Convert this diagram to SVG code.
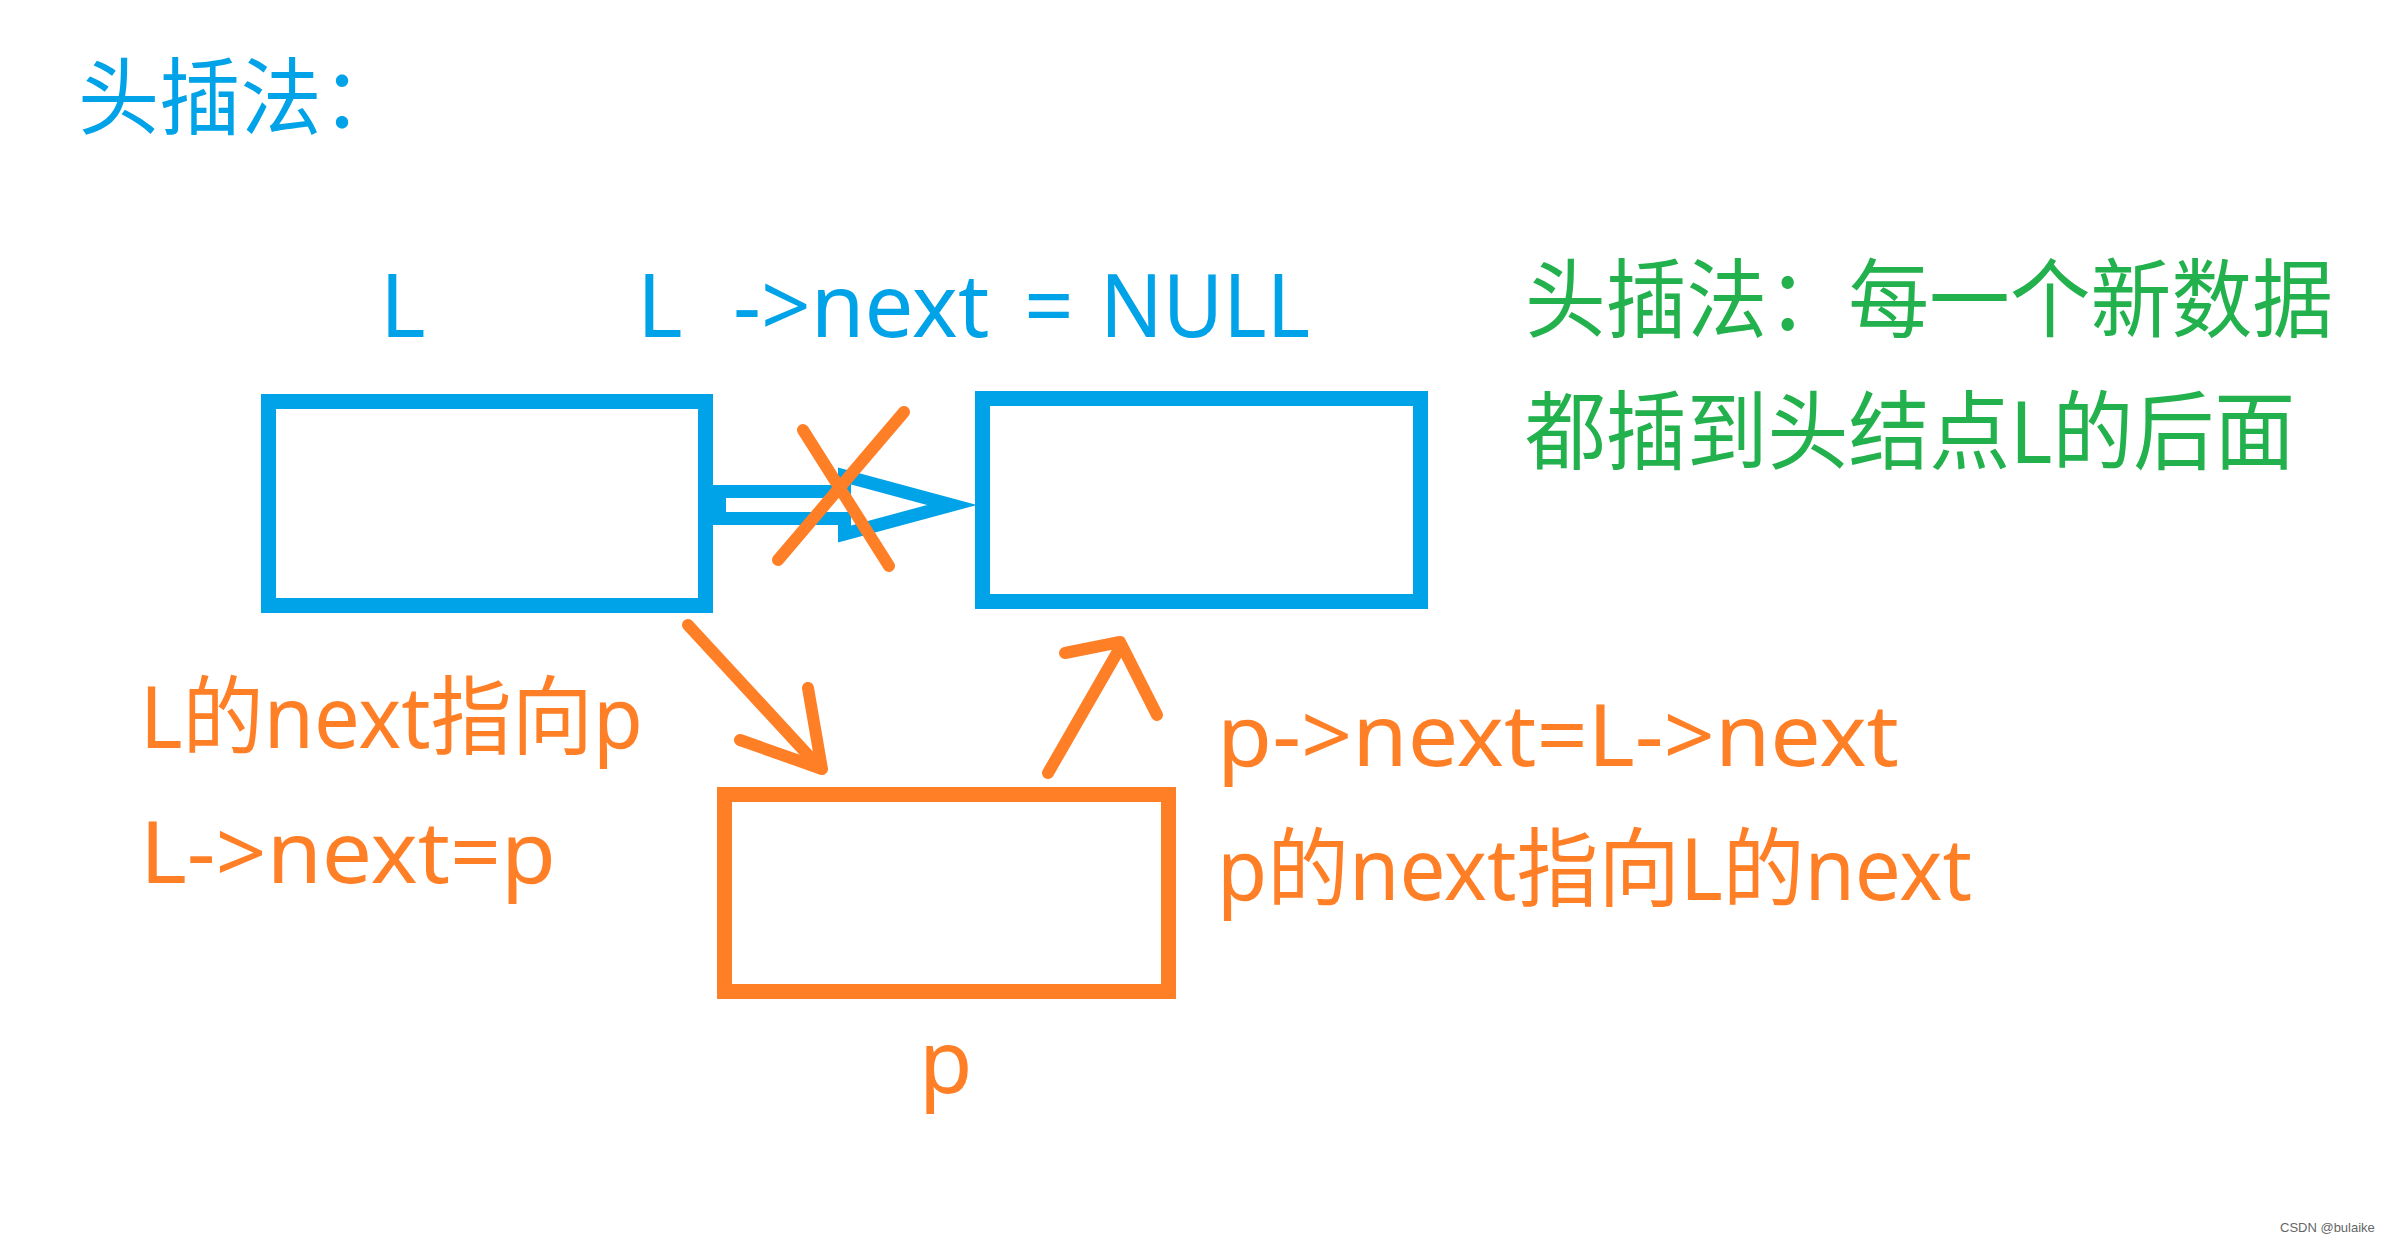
<svg xmlns="http://www.w3.org/2000/svg" width="2384" height="1243" viewBox="0 0 2384 1243">
<style>
.blue{fill:#00A2E8}
.orange{fill:#FF7F27}
.green{fill:#22B14C}
.t{font-family:"Noto Sans","Noto Sans CJK SC",sans-serif}
.box{fill:none;stroke-width:15}
.bb{stroke:#00A2E8}
.ob{stroke:#FF7F27}
.pen{fill:none;stroke:#FF7F27;stroke-width:12;stroke-linecap:round;stroke-linejoin:round}
</style>
<rect width="2384" height="1243" fill="#fff"/>
<text class="t blue" x="78" y="128" font-size="84" font-family="'Noto Sans CJK SC',sans-serif" textLength="325" lengthAdjust="spacingAndGlyphs">头插法：</text>
<g id="node-L">
<rect class="box bb" x="268.5" y="401.5" width="437" height="204"/>
<text class="t blue" x="380" y="337" font-size="87">L</text>
</g>
<g id="node-next">
<rect class="box bb" x="982.5" y="398.5" width="438" height="203"/>
<text class="t blue" x="637" y="337" font-size="87" xml:space="preserve"><tspan x="637">L </tspan><tspan x="733">-&gt;next </tspan><tspan x="1024">= </tspan><tspan x="1100" textLength="210" lengthAdjust="spacingAndGlyphs">NULL</tspan></text>
</g>
<g id="node-p">
<rect class="box ob" x="724.5" y="794.5" width="444" height="197"/>
<text class="t orange" x="919" y="1093" font-size="87">p</text>
</g>
<g id="connectors">
<polygon points="719.5,491.5 844.5,491.5 844.5,476 952,505 844.5,534 844.5,518.5 719.5,518.5" fill="none" stroke="#00A2E8" stroke-width="13" stroke-miterlimit="10"/>
<line class="pen" x1="803" y1="430" x2="889" y2="566"/>
<line class="pen" x1="904" y1="412" x2="778" y2="560"/>
<line class="pen" x1="688" y1="625" x2="820" y2="768"/>
<polyline class="pen" points="740,740 822,769 808,688"/>
<line class="pen" x1="1048" y1="773" x2="1121" y2="646"/>
<polyline class="pen" points="1065,653 1120,642 1157,715"/>
</g>
<g id="labels">
<text class="t orange" x="140" y="748" font-size="86" textLength="503" lengthAdjust="spacingAndGlyphs">L的next指向p</text>
<text class="t orange" x="140" y="883" font-size="86" textLength="416" lengthAdjust="spacingAndGlyphs">L-&gt;next=p</text>
<text class="t orange" x="1217" y="766" font-size="86" textLength="682" lengthAdjust="spacingAndGlyphs">p-&gt;next=L-&gt;next</text>
<text class="t orange" x="1217" y="900" font-size="86" textLength="755" lengthAdjust="spacingAndGlyphs">p的next指向L的next</text>
<text class="t green" x="1525" y="331" font-size="86" textLength="808" lengthAdjust="spacingAndGlyphs">头插法：每一个新数据</text>
<text class="t green" x="1525" y="463" font-size="86" textLength="770" lengthAdjust="spacingAndGlyphs">都插到头结点L的后面</text>
</g>
<text x="2280" y="1232" font-size="13" fill="#666" font-family="'Liberation Sans',Arial,sans-serif">CSDN @bulaike</text>
</svg>
